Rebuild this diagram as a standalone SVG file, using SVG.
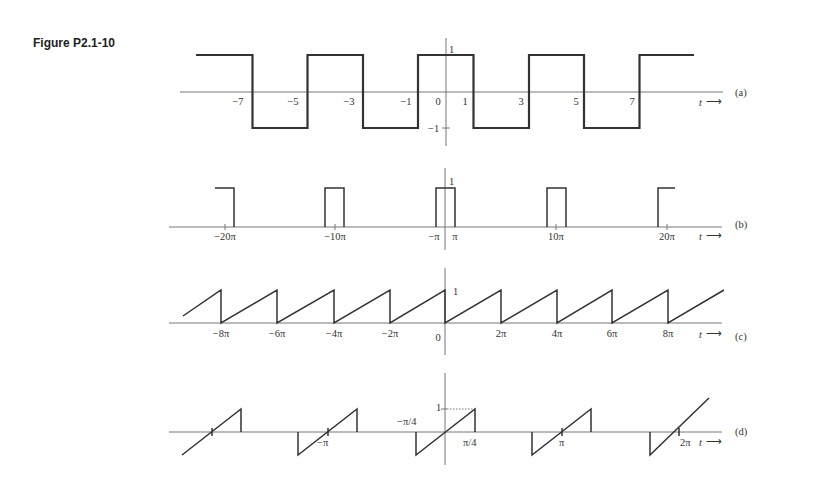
<svg xmlns="http://www.w3.org/2000/svg" width="826" height="485" viewBox="0 0 826 485">
<style>
.ax{stroke:#777;stroke-width:1;fill:none}
.sg{stroke:#333;stroke-width:1.5;fill:none}
.sa{stroke:#333;stroke-width:2.2;fill:none}
text{font-family:"Liberation Serif",serif;font-size:10.5px;fill:#333}
.lb{text-anchor:middle}
.tt{font-family:"Liberation Sans",sans-serif;font-weight:bold;font-size:12px;fill:#222}
</style>
<rect width="826" height="485" fill="#fff"/>
<text class="tt" x="33" y="47">Figure P2.1-10</text>
<g id="a">
<path class="ax" d="M180 92H723M446 38V146M442 128H450"/>
<path class="sa" d="M196 55H252.5V128H307.5V55H363V128H418V55H473.5V128H529V55H584V128H639.5V55H694"/>
<g class="lb"><text x="238" y="105">−7</text><text x="293" y="105">−5</text><text x="349" y="105">−3</text><text x="406" y="105">−1</text><text x="438" y="105">0</text><text x="465" y="105">1</text><text x="521" y="105">3</text><text x="576" y="105">5</text><text x="632" y="105">7</text></g>
<text x="449" y="53">1</text><text x="428" y="132">−1</text>
<text x="699" y="106" font-style="italic">t</text><text x="706" y="105">⟶</text>
<text x="735" y="96" font-size="11">(a)</text>
</g>
<g id="b">
<path class="ax" d="M169 227H722M445 168V250M225 224V230M335 224V230M556 224V230M667 224V230"/>
<path class="sg" d="M215 188H234V227M325 227V188H344V227M436 227V188H455V227M547 227V188H566V227M658 227V188H675"/>
<g class="lb"><text x="225" y="240">−20π</text><text x="335" y="240">−10π</text><text x="434" y="240">−π</text><text x="455" y="240">π</text><text x="556" y="240">10π</text><text x="667" y="240">20π</text></g>
<text x="449" y="185">1</text>
<text x="699" y="240" font-style="italic">t</text><text x="706" y="239">⟶</text>
<text x="735" y="228" font-size="11">(b)</text>
</g>
<g id="c">
<path class="ax" d="M169 323H722M445 268V355"/>
<path class="sg" d="M183 316L221 290V323L277 290V323L334 290V323L390 290V323L445 290V323L501 290V323L557 290V323L612 290V323L668 290V323L724 290"/>
<g class="lb"><text x="221" y="337">−8π</text><text x="277" y="337">−6π</text><text x="334" y="337">−4π</text><text x="390" y="337">−2π</text><text x="438" y="341">0</text><text x="501" y="337">2π</text><text x="557" y="337">4π</text><text x="612" y="337">6π</text><text x="668" y="337">8π</text></g>
<text x="453" y="295">1</text>
<text x="699" y="338" font-style="italic">t</text><text x="706" y="337">⟶</text>
<text x="735" y="340" font-size="11">(c)</text>
</g>
<g id="d">
<path class="ax" d="M169 432H722M445 373V465M441 409H447"/>
<path class="ax" d="M447 409H475" stroke-dasharray="1.5 1.5"/>
<path class="sg" d="M182 455L241 409V432M298 432V455L357 409V432M416 432V455L475 409V432M532 432V455L591 409V432M650 432V455L709 398M212 428V436M328 428V436M562 428V436M679 428V436"/>
<text x="436" y="411">1</text>
<text x="397" y="425">−π/4</text>
<text x="463" y="446">π/4</text>
<text x="317" y="446">−π</text>
<text x="559" y="446">π</text>
<text x="680" y="446">2π</text>
<text x="699" y="446" font-style="italic">t</text><text x="706" y="445">⟶</text>
<text x="735" y="435" font-size="11">(d)</text>
</g>
</svg>
